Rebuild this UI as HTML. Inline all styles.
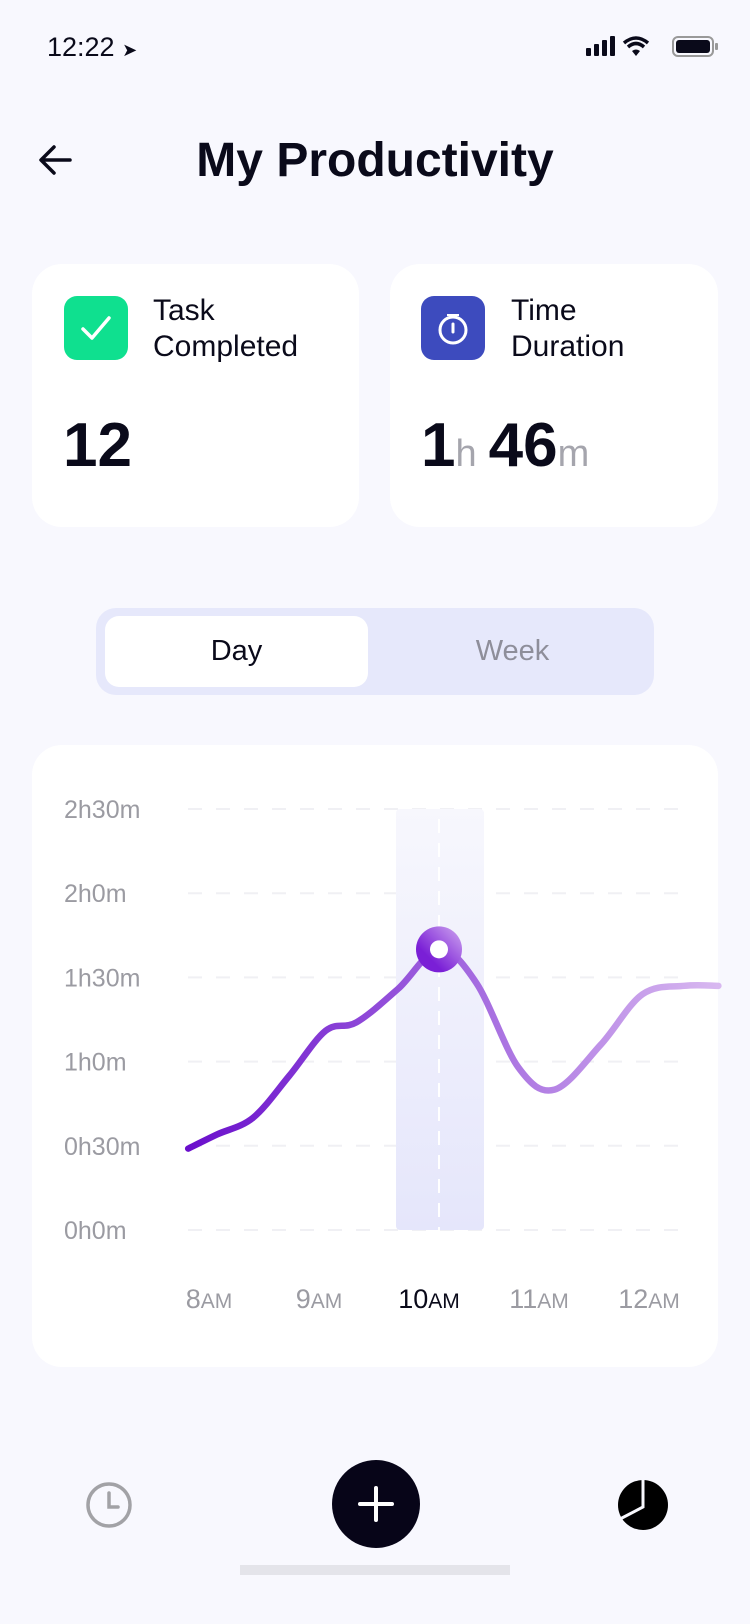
<!DOCTYPE html>
<html><head><meta charset="utf-8"><style>
*{margin:0;padding:0;box-sizing:border-box}
body{width:750px;height:1624px;background:#F8F8FE;font-family:"Liberation Sans",sans-serif;color:#0A0A1A;position:relative;overflow:hidden}
.abs{position:absolute}
.card{position:absolute;background:#fff;border-radius:30px}
</style></head><body>
<div class="abs" style="left:47px;top:32px;font-size:27px;">12:22 <span style="font-size:18px">➤</span></div>
<svg class="abs" style="left:584px;top:34px" width="135" height="26">
<rect x="2" y="14" width="5" height="8" rx="1" fill="#0A0A1A"/><rect x="10" y="10" width="5" height="12" rx="1" fill="#0A0A1A"/><rect x="18" y="6" width="5" height="16" rx="1" fill="#0A0A1A"/><rect x="26" y="2" width="5" height="20" rx="1" fill="#0A0A1A"/>
<path d="M40 9 Q52 -1 64 9" stroke="#0A0A1A" stroke-width="3.5" fill="none"/><path d="M44 13 Q52 6 60 13" stroke="#0A0A1A" stroke-width="3.5" fill="none"/><path d="M48 17 L52 22 L56 17 Q52 14 48 17Z" fill="#0A0A1A"/>
<rect x="89" y="3" width="40" height="19" rx="5" fill="none" stroke="#999" stroke-width="2"/><rect x="92" y="6" width="34" height="13" rx="3" fill="#0A0A1A"/><rect x="131" y="9" width="3" height="7" rx="1" fill="#999"/>
</svg>
<svg class="abs" style="left:36px;top:142px" width="40" height="36"><path d="M34 18H6M18 5L5 18L18 31" stroke="#0A0A1A" stroke-width="3.5" fill="none" stroke-linecap="round" stroke-linejoin="round"/></svg>
<div class="abs" style="left:0;width:750px;text-align:center;top:133px;font-size:48px;font-weight:bold">My Productivity</div>

<div class="card" style="left:32px;top:264px;width:327px;height:263px">
 <div class="abs" style="left:32px;top:32px;width:64px;height:64px;border-radius:13px;background:#0FE08F">
  <svg width="64" height="64"><path d="M19 33L28 42L45 22" stroke="#fff" stroke-width="3.5" fill="none" stroke-linecap="round" stroke-linejoin="round"/></svg></div>
 <div class="abs" style="left:121px;top:29px;font-size:30px;line-height:36px">Task<br>Completed</div>
 <div class="abs" style="left:31px;top:146px;font-size:62px;font-weight:bold">12</div>
</div>
<div class="card" style="left:390px;top:264px;width:328px;height:263px">
 <div class="abs" style="left:31px;top:32px;width:64px;height:64px;border-radius:13px;background:#3D4BBE">
  <svg width="64" height="64"><circle cx="32" cy="34" r="13" stroke="#fff" stroke-width="3" fill="none"/><line x1="32" y1="28" x2="32" y2="36" stroke="#fff" stroke-width="3" stroke-linecap="round"/><line x1="26" y1="19" x2="38" y2="19" stroke="#fff" stroke-width="2"/></svg></div>
 <div class="abs" style="left:121px;top:29px;font-size:30px;line-height:36px">Time<br>Duration</div>
 <div class="abs" style="left:31px;top:146px;font-size:62px;font-weight:bold;white-space:nowrap">1<span style="font-size:38px;font-weight:normal;color:#A5A5AD;margin-right:12px">h</span>46<span style="font-size:38px;font-weight:normal;color:#A5A5AD">m</span></div>
</div>

<div class="abs" style="left:96px;top:608px;width:558px;height:87px;border-radius:20px;background:#E6E8FB">
 <div class="abs" style="left:9px;top:8px;width:263px;height:71px;border-radius:14px;background:#fff;text-align:center;line-height:71px;font-size:29px">Day</div>
 <div class="abs" style="left:285px;top:8px;width:263px;height:71px;text-align:center;line-height:71px;font-size:29px;color:#8E8E9A">Week</div>
</div>

<div class="card" style="left:32px;top:745px;width:686px;height:622px"></div>
<svg class="abs" id="chart" style="left:0;top:0" width="750" height="1400"></svg>

<div class="abs" style="left:85px;top:1481px">
<svg width="48" height="48"><circle cx="24" cy="24" r="21" stroke="#A2A2A6" stroke-width="3.5" fill="none"/><path d="M24 12V26H33" stroke="#A2A2A6" stroke-width="3.5" fill="none" stroke-linecap="round"/></svg></div>
<div class="abs" style="left:332px;top:1460px;width:88px;height:88px;border-radius:50%;background:#070518">
<svg width="88" height="88"><path d="M44 28V60M28 44H60" stroke="#fff" stroke-width="4" stroke-linecap="round"/></svg></div>
<div class="abs" style="left:617px;top:1479px">
<svg width="52" height="52"><circle cx="26" cy="26" r="25" fill="#000"/><path d="M26 0V28L3 40" stroke="#F8F8FE" stroke-width="3" fill="none"/></svg></div>
<div class="abs" style="left:240px;top:1565px;width:270px;height:10px;background:#E4E4EA"></div>

<script>
const yTicks=[0,30,60,90,120,150];
const yTickLabels=["0h0m","0h30m","1h0m","1h30m","2h0m","2h30m"];
const xHours=[8,9,10,11,12];
const xLabels=["8","9","10","11","12"];
const lineHours=[7.72,7.98,8.31,8.64,8.97,9.25,9.63,10.0,10.34,10.72,11.05,11.47,11.85,12.23,12.54];
const lineMinutes=[29,34,40,55,71,74,86,100,88,58,50,66,84,87,87];
const selectedHour=10;
const selectedMinutes=100;

const NS="http://www.w3.org/2000/svg";
const svg=document.getElementById('chart');
function X(h){return 439+(h-10)*110;}
function Y(m){return 1230-(m/30)*84.2;}
function el(t,a){const e=document.createElementNS(NS,t);for(const k in a)e.setAttribute(k,a[k]);return e;}
const defs=el('defs',{});
defs.innerHTML='<linearGradient id="band" x1="0" y1="0" x2="0" y2="1"><stop offset="0" stop-color="#F7F7FD"/><stop offset="1" stop-color="#E5E6FB"/></linearGradient><linearGradient id="lg" gradientUnits="userSpaceOnUse" x1="188" y1="0" x2="718" y2="0"><stop offset="0" stop-color="#6A0FCC"/><stop offset="0.5" stop-color="#A064DE"/><stop offset="1" stop-color="#D8B8F0"/></linearGradient><linearGradient id="mk" x1="0" y1="1" x2="1" y2="0"><stop offset="0.3" stop-color="#7A1FD6"/><stop offset="1" stop-color="#D0A8F0"/></linearGradient>';
svg.appendChild(defs);
yTicks.forEach((t,i)=>{
 const g=el('line',{x1:188,x2:686,y1:Y(t),y2:Y(t),stroke:'#F0F0F4','stroke-width':2,'stroke-dasharray':'14 14'});
 
 
 svg.appendChild(g);
 const tx=el('text',{x:64,y:Y(t)+9,'font-size':25,fill:'#9B9BA2','font-family':'Liberation Sans, sans-serif'});
 tx.textContent=yTickLabels[i];
 
 
 svg.appendChild(tx);
});
const band=el('rect',{x:X(selectedHour)-43,y:Y(150),width:88,height:Y(0)-Y(150),fill:'url(#band)',rx:4});


svg.appendChild(band);
const vl=el('line',{x1:X(selectedHour),x2:X(selectedHour),y1:Y(150)+10,y2:Y(0),stroke:'#fff','stroke-width':2,'stroke-dasharray':'14 10'});


svg.appendChild(vl);
const pts=lineHours.map((h,i)=>[X(h),Y(lineMinutes[i])]);
let d='M'+pts[0][0]+' '+pts[0][1];
for(let i=0;i<pts.length-1;i++){
 const p0=pts[Math.max(0,i-1)],p1=pts[i],p2=pts[i+1],p3=pts[Math.min(pts.length-1,i+2)];
 d+=` C${p1[0]+(p2[0]-p0[0])/6} ${p1[1]+(p2[1]-p0[1])/6} ${p2[0]-(p3[0]-p1[0])/6} ${p2[1]-(p3[1]-p1[1])/6} ${p2[0]} ${p2[1]}`;
}
const path=el('path',{d:d,fill:'none',stroke:'url(#lg)','stroke-width':6.5,'stroke-linecap':'round'});


svg.appendChild(path);
const mk=el('circle',{cx:X(selectedHour),cy:Y(selectedMinutes),r:23,fill:'url(#mk)'});


svg.appendChild(mk);
const mk2=el('circle',{cx:X(selectedHour),cy:Y(selectedMinutes),r:9,fill:'#fff'});


svg.appendChild(mk2);
xHours.forEach((h,i)=>{
 const tx=el('text',{x:X(h)-10,y:1308,'text-anchor':'middle','font-size':27,fill:h===selectedHour?'#0A0A1A':'#9B9BA2','font-family':'Liberation Sans, sans-serif'});
 tx.innerHTML=xLabels[i]+'<tspan font-size="21">AM</tspan>';
 
 
 svg.appendChild(tx);
});
</script>
</body></html>
